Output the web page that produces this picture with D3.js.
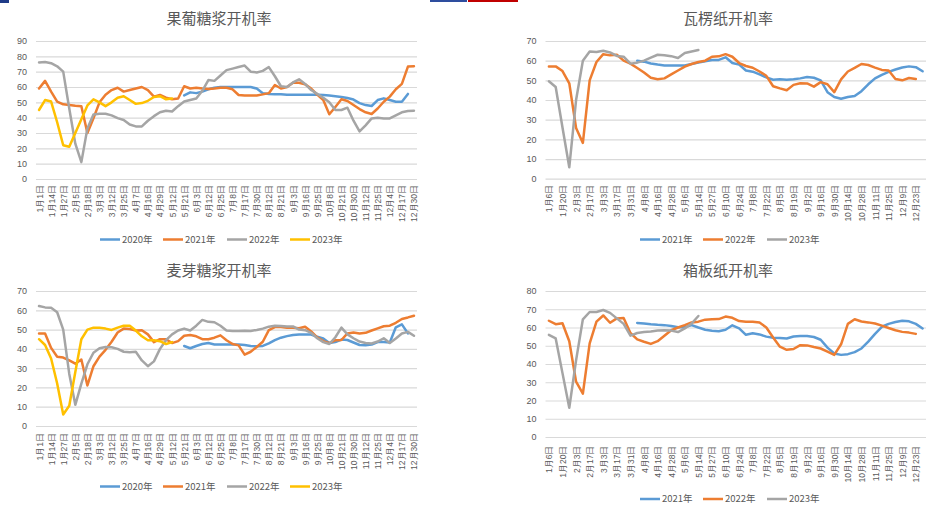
<!DOCTYPE html>
<html>
<head>
<meta charset="utf-8">
<script src="https://cdn.jsdelivr.net/npm/d3@7"></script>
<style>
  body { margin: 0; background: #fff; }
  svg { display: block; font-family: "Noto Sans CJK SC", "Noto Sans", sans-serif; }
</style>
</head>
<body>
<svg id="chart" width="935" height="511"></svg>
<script>
// tick labels (every other category is labelled)
var labelsSyrup = ["1月1日","1月14日","1月27日","2月5日","2月18日","3月3日","3月12日","3月25日","4月7日","4月16日","4月29日","5月12日","5月21日","6月3日","6月12日","6月25日","7月8日","7月17日","7月30日","8月12日","8月21日","9月3日","9月16日","9月25日","10月8日","10月21日","10月30日","11月12日","11月25日","12月4日","12月17日","12月30日"];
var labelsPaper = ["1月6日","1月20日","2月3日","2月17日","3月3日","3月17日","3月31日","4月8日","4月16日","4月28日","5月6日","5月14日","5月27日","6月10日","6月24日","7月8日","7月22日","8月5日","8月19日","9月2日","9月16日","9月30日","10月14日","10月28日","11月11日","11月25日","12月9日","12月23日"];

// 果葡糖浆开机率
var guo2020 = [54.5,56.5,56,57,58.5,59.5,60,60,60,60,60,60,59,56,55.5,55.3,55.2,55,55,55,55,55,55,54.8,54.5,54,53.5,52.8,51.8,49.5,48.2,47.6,51.5,52.6,51.5,50.4,50.4,55.5]; // from index 24
var guo2021 = [59,64,57,50.5,48.7,48.3,47.8,47.5,30,39.6,50,55,58,59.5,57,58,59,60,58,53.7,54.8,53,52,52.5,60.5,59,59.5,59,58.7,59,59.5,59.5,58.5,54.8,54.5,54.5,54.5,55.2,56,61.3,59,60,62.8,62.8,61.7,59,55,51.5,42.2,47,52,50.9,48.3,45.6,43.5,42.4,46,50.4,53.7,58.5,62,73.3,73.5];
var guo2022 = [76,76.3,75.5,73.5,70,46,23,11,33,42,42.6,42.6,41.5,39.7,38.5,35.5,34.3,34.3,38,41,43.5,44.5,44,47.5,50.5,51.5,52.5,57.5,64.5,64,67.5,71,72,73,74,70,69.5,70.5,73,67,60.5,60,63,65,62,58,55.5,53,50,45,45,46.5,38,31,35,39.5,40,39.5,39.5,41.5,43.5,44.3,44.5];
var guo2023 = [45,51.5,50.5,37,22,21,30,39,48,52,50,47.5,50,53,54,51.5,49,49.5,51,53.5,54,52,52.5];

// 瓦楞纸开机率
var wa2021 = [60,59.5,58.6,58,57.6,57.5,57.5,57.5,58.3,59,59.7,60.3,60.4,61.7,58.8,58,55,54.4,53,51.5,50.3,50.5,50.3,50.5,51,51.7,51.3,50,44,41.5,40.6,41.5,42,44.5,48,51,52.8,54.3,55.5,56.5,57.1,56.7,54.6]; // from index 13
var wa2022 = [57.1,57.1,54.7,48.5,25.8,18.2,50,59.3,63.3,62.7,63,60,58.5,56.3,54,51.3,50.6,51,53,55,57,58.3,59.3,60,62,62.2,63.3,62,58.8,57.3,56.4,54.5,52.3,47,45.9,45,47.7,48.5,48.4,46.8,49.1,48,44,50.5,54.5,56.3,58.3,57.8,56.5,55.3,55,50.7,50,51.2,50.7];
var wa2023 = [49.5,46.6,26,5.8,40,60,64.7,64.4,65,64.2,62.4,62,58.5,59,60,61.5,63,62.8,62.3,61.4,63.9,64.7,65.4];

// 麦芽糖浆开机率
var mai2020 = [41.5,40.3,41.5,42.5,43,42.3,42.3,42.3,42.3,42.2,42,41.5,41.3,41.5,42.8,44.5,45.8,46.6,47.2,47.5,47.5,47.4,46.3,45.4,43,43.5,44.8,44.6,43.3,42,41.9,42.2,43.5,43.5,43.3,51.2,52.7,48]; // from index 24
var mai2021 = [48,48,40.5,35.9,35.5,34,32.3,34.5,21,31,36,39.5,43.7,48.5,50.5,50.3,49.5,49.7,47.5,43.5,45,45,43,44,46.8,47.2,46.5,45,45,45.8,47,44.5,42.5,41.8,37,38.5,41,43.7,49.7,51.3,51.3,51,51,50.7,51.5,49,46,44,43,44.5,44.6,48,48.5,48,48.3,49.5,50.6,51.7,52,53.5,55.5,56.3,57.2];
var mai2022 = [62.2,61.5,61.3,59,50,27,11,22,32,38,40.3,41,40.8,40,38.5,38.3,38.5,34,31,33.5,40,44.5,47.5,49.5,50.5,49.5,52,55,54,53.8,52,49.5,49.2,49.2,49.4,49.3,49.8,50.5,51.5,52,51.8,51.6,51.6,50,49.7,48.3,45.5,43.5,42.5,46,51,47.5,45.5,43.8,43,42.8,43.8,45.5,43,45.4,48,48.8,46.8];
var mai2023 = [45,42,35,22,6,10.5,28,45,50,51,51,50.5,49.8,51,52,52,49.5,46.5,44.5,44.5,44,42.5,43.5];

// 箱板纸开机率
var xiang2021 = [62.5,62.2,61.8,61.5,61.3,60.8,60.1,60.1,61.3,60,58.8,58.2,57.9,58.8,61.2,59.5,56,56.8,56.2,55,54.4,54.2,54,55.1,55.3,55.3,54.8,53.3,49,45.8,45,45.4,46.5,48.5,52.3,56.5,60.4,62,63,63.7,63.4,62,59.5]; // from index 13
var xiang2022 = [63.7,61.8,62.3,52.5,30.3,23.8,51.3,63.2,66.6,62.6,65,65.2,57,53.5,52.2,51,52.5,55.5,58.5,60,61.3,62.8,63.2,64.3,64.5,64.6,66,65.3,63.5,63.2,63.2,62.7,60,54.5,49.5,47.8,48.2,50.3,50.2,49.3,48.5,46.8,45,50.8,62,64.5,63.3,62.8,62.2,61,59.7,58.5,57.6,57.2,56.5];
var xiang2023 = [56,54,35,16,42,64.5,68.5,68.5,69.6,68,65,62,55.5,57,57.5,57.8,58.3,58.5,58.3,57.5,59.5,62.2,66.3];

var colors = { blue: "#5b9bd5", orange: "#ed7d31", gray: "#a5a5a5", yellow: "#ffc000" };

// put a series on the category index it starts at
function placeAt(start, values) {
  var out = [];
  for (var i = 0; i < start; i++) out.push(null);
  return out.concat(values);
}

var svg = d3.select("#chart");

// header fragments at the top edge
svg.append("rect").attr("x", 0).attr("y", 0).attr("width", 9).attr("height", 3).attr("fill", "#1f3c88");
svg.append("rect").attr("x", 430).attr("y", 0).attr("width", 37).attr("height", 2).attr("fill", "#2e4d9e");
svg.append("rect").attr("x", 468).attr("y", 0).attr("width", 50).attr("height", 2).attr("fill", "#c00000");

var panels = [
  { title: "果葡糖浆开机率", titleX: 219, titleY: 24, left: 36, right: 417, top: 41, bottom: 179, yMax: 90, n: 63,
    labels: labelsSyrup, labelGap: 6, legendY: 239.5, legendX: [100, 163, 227, 290],
    series: [
      { name: "2020年", color: colors.blue, values: placeAt(24, guo2020) },
      { name: "2021年", color: colors.orange, values: guo2021 },
      { name: "2022年", color: colors.gray, values: guo2022 },
      { name: "2023年", color: colors.yellow, values: guo2023 }
    ] },
  { title: "瓦楞纸开机率", titleX: 728, titleY: 24, left: 545.5, right: 926, top: 41, bottom: 178.7, yMax: 70, n: 56,
    labels: labelsPaper, labelGap: 6, legendY: 239.5, legendX: [640, 703, 767],
    series: [
      { name: "2021年", color: colors.blue, values: placeAt(13, wa2021) },
      { name: "2022年", color: colors.orange, values: wa2022 },
      { name: "2023年", color: colors.gray, values: wa2023 }
    ] },
  { title: "麦芽糖浆开机率", titleX: 219, titleY: 275.5, left: 36, right: 417, top: 291, bottom: 426, yMax: 70, n: 63,
    labels: labelsSyrup, labelGap: 7, legendY: 486.5, legendX: [100, 163, 227, 290],
    series: [
      { name: "2020年", color: colors.blue, values: placeAt(24, mai2020) },
      { name: "2021年", color: colors.orange, values: mai2021 },
      { name: "2022年", color: colors.gray, values: mai2022 },
      { name: "2023年", color: colors.yellow, values: mai2023 }
    ] },
  { title: "箱板纸开机率", titleX: 728, titleY: 275.5, left: 545.5, right: 926, top: 291, bottom: 437, yMax: 80, n: 56,
    labels: labelsPaper, labelGap: 8.5, legendY: 499, legendX: [640, 703, 767],
    series: [
      { name: "2021年", color: colors.blue, values: placeAt(13, xiang2021) },
      { name: "2022年", color: colors.orange, values: xiang2022 },
      { name: "2023年", color: colors.gray, values: xiang2023 }
    ] }
];

var fontFamily = '"Noto Sans CJK SC", "Noto Sans", sans-serif';

panels.forEach(function (p) {
  var x = d3.scalePoint().domain(d3.range(p.n)).range([p.left, p.right]).padding(0.5);
  var y = d3.scaleLinear().domain([0, p.yMax]).range([p.bottom, p.top]);
  var g = svg.append("g");

  g.append("text")
    .attr("x", p.titleX)
    .attr("y", p.titleY)
    .attr("text-anchor", "middle")
    .attr("fill", "#595959")
    .style("font-size", "15px")
    .text(p.title);

  // y axis with gridlines
  var yAxis = g.append("g")
    .attr("transform", "translate(" + p.left + ",0)")
    .attr("font-family", fontFamily)
    .call(d3.axisLeft(y).tickValues(d3.range(0, p.yMax + 1, 10)).tickSize(-(p.right - p.left)).tickPadding(9));
  yAxis.select(".domain").remove();
  yAxis.selectAll("line").attr("stroke", "#d9d9d9").attr("stroke-width", 1.2);
  yAxis.selectAll("text").attr("fill", "#595959").style("font-size", "9px");

  // x axis, rotated category labels
  var xAxis = g.append("g")
    .attr("transform", "translate(0," + p.bottom + ")")
    .attr("font-family", fontFamily)
    .call(d3.axisBottom(x)
      .tickValues(d3.range(0, p.n, 2))
      .tickFormat(function (i) { return p.labels[i / 2]; })
      .tickSize(0).tickPadding(0));
  xAxis.select(".domain").remove();
  xAxis.selectAll("text")
    .attr("transform", "rotate(-90)")
    .attr("x", -p.labelGap)
    .attr("y", 0)
    .attr("dy", "0.35em")
    .style("text-anchor", "end")
    .attr("fill", "#595959")
    .style("font-size", "8.5px");

  var line = d3.line()
    .defined(function (d) { return d[1] != null; })
    .x(function (d) { return x(d[0]); })
    .y(function (d) { return y(d[1]); });

  p.series.forEach(function (s) {
    g.append("path")
      .datum(s.values.map(function (v, i) { return [i, v]; }))
      .attr("fill", "none")
      .attr("stroke", s.color)
      .attr("stroke-width", 2.5)
      .attr("stroke-linejoin", "round")
      .attr("stroke-linecap", "round")
      .attr("d", line);
  });

  // legend
  p.series.forEach(function (s, i) {
    var lx = p.legendX[i];
    g.append("line")
      .attr("x1", lx).attr("x2", lx + 20)
      .attr("y1", p.legendY).attr("y2", p.legendY)
      .attr("stroke", s.color)
      .attr("stroke-width", 2.5);
    g.append("text")
      .attr("x", lx + 22)
      .attr("y", p.legendY)
      .attr("dy", "0.35em")
      .attr("fill", "#595959")
      .style("font-size", "9.5px")
      .text(s.name);
  });
});
</script>
</body>
</html>
